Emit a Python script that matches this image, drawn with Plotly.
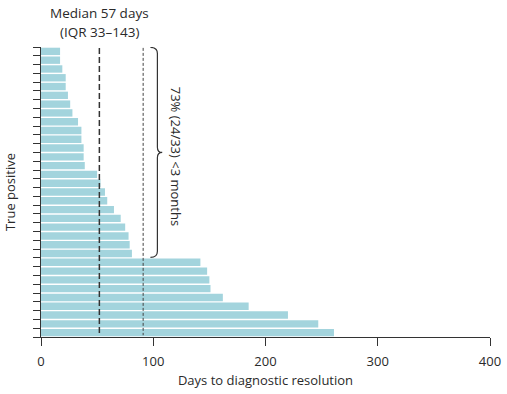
import plotly.graph_objects as go

# Days to diagnostic resolution for each true-positive case (top to bottom)
days = [17, 17, 19, 22, 22, 24, 26, 28, 33, 36, 36, 38, 38, 39, 50, 53, 57, 59,
        65, 71, 75, 78, 79, 81, 142, 148, 150, 151, 162, 185, 220, 247, 261]
case_index = list(range(1, len(days) + 1))
median_line = 52
three_months = 91
x_ticks = [0, 100, 200, 300, 400]
median_lines = ["Median 57 days", "(IQR 33–143)"]
brace_text = "73% (24/33) <3 months"
n_under = 24

FONT = "Open Sans"
TXT = "#2a2a2a"
AX = "#333333"

fig = go.Figure()
fig.add_trace(go.Bar(
    x=days, y=case_index, orientation="h",
    marker=dict(color="#a3d4dd", line=dict(width=0)),
    hoverinfo="x",
))

# reference lines
fig.add_shape(type="line", xref="x", yref="y", x0=median_line, x1=median_line,
              y0=0.6, y1=33.3, line=dict(color="#333333", width=1.5, dash="6px,3px"),
              layer="above")
fig.add_shape(type="line", xref="x", yref="y", x0=three_months, x1=three_months,
              y0=0.6, y1=33.3, line=dict(color="#444444", width=1, dash="3px,2px"),
              layer="above")

# curly brace spanning the <3 months cases
top = 0.55
bot = n_under + 0.45
mid = (top + bot) / 2
xl, xs, xp = 97.5, 103.7, 108.0
path = (f"M {xl},{top} Q {xs},{top} {xs},{top+0.7} "
        f"L {xs},{mid-0.6} Q {xs},{mid} {xp},{mid} "
        f"Q {xs},{mid} {xs},{mid+0.6} "
        f"L {xs},{bot-0.7} Q {xs},{bot} {xl},{bot}")
fig.add_shape(type="path", xref="x", yref="y", path=path,
              line=dict(color="#333333", width=1.2))

fig.add_annotation(x=120.5, y=mid + 0.4, xref="x", yref="y", text=brace_text,
                   textangle=90, showarrow=False,
                   font=dict(family=FONT, size=13, color=TXT))
for i, line in enumerate(median_lines):
    fig.add_annotation(x=median_line, y=1, xref="x", yref="paper", text=line,
                       showarrow=False, yanchor="middle", yshift=33.6 - 19 * i,
                       font=dict(family=FONT, size=13.5, color=TXT))

fig.update_layout(
    width=507, height=394,
    margin=dict(l=40.5, r=17, t=46.6, b=56.5, autoexpand=False),
    paper_bgcolor="white", plot_bgcolor="white",
    bargap=0.16, showlegend=False,
    font=dict(family=FONT, size=13, color=TXT),
)
fig.update_xaxes(
    range=[0, 400], tickvals=x_ticks, ticks="outside", ticklen=8,
    tickcolor=AX, tickwidth=1.2, showline=True, linecolor=AX, linewidth=1.2,
    showgrid=False, zeroline=False, automargin=False, ticklabelstandoff=4,
    title=dict(text="Days to diagnostic resolution", standoff=7,
               font=dict(family=FONT, size=13, color=TXT)),
    tickfont=dict(family=FONT, size=13, color=TXT),
)
fig.update_yaxes(
    range=[len(days) + 0.5, 0.5],
    tickvals=[i + 0.5 for i in range(0, len(days) + 1)],
    showticklabels=False, ticks="outside", ticklen=7, tickcolor=AX, tickwidth=1.2,
    showline=True, linecolor=AX, linewidth=1.2, showgrid=False, zeroline=False,
    automargin=False,
    title=dict(text="True positive", standoff=14,
               font=dict(family=FONT, size=13, color=TXT)),
)

fig.write_html("out.html", config={"displayModeBar": False},
               post_script="document.body.style.margin='0';")
